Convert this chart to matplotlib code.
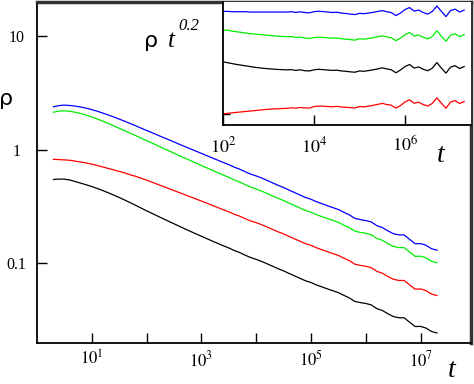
import matplotlib.pyplot as plt
import numpy as np
from matplotlib.ticker import NullLocator

plt.rcParams['font.family'] = 'Liberation Serif'
plt.rcParams['mathtext.fontset'] = 'stix'

# time grid: log10 t = 0.3 ... 7.3, step 0.1
t = 10 ** (np.arange(3, 74) / 10)

# rho * t^0.2 (and the main panel for early times)
rho_t02_blue = [2.73, 2.93, 3.10, 3.22, 3.33, 3.42, 3.50, 3.56, 3.61, 3.64, 3.67, 3.69, 3.70, 3.71, 3.71, 3.71, 3.70, 3.70,
                3.70, 3.69, 3.69, 3.69, 3.69, 3.68, 3.68, 3.68, 3.68, 3.68, 3.68, 3.68, 3.68, 3.68,
                3.69, 3.67, 3.686, 3.665, 3.656, 3.692, 3.704, 3.695, 3.68, 3.668, 3.674, 3.651, 3.636, 3.621, 3.606,
                3.643, 3.632, 3.651, 3.671, 3.698, 3.724, 3.689, 3.665, 3.577, 3.651, 3.754, 3.816, 3.709, 3.739,
                3.665, 3.621, 3.698, 3.864, 3.698, 3.548, 3.724, 3.768, 3.68, 3.739]
rho_t02_green = [2.45, 2.62, 2.76, 2.86, 2.94, 3.00, 3.04, 3.07, 3.08, 3.09, 3.09, 3.08, 3.07, 3.06, 3.05, 3.04, 3.02, 3.01,
                 3.00, 2.98, 2.965, 2.95, 2.935, 2.92, 2.91, 2.90, 2.89, 2.88, 2.87, 2.86, 2.855, 2.85,
                 2.852, 2.833, 2.840, 2.819, 2.807, 2.829, 2.839, 2.833, 2.823, 2.815, 2.820, 2.803, 2.793, 2.783, 2.772,
                 2.802, 2.794, 2.809, 2.826, 2.848, 2.869, 2.843, 2.826, 2.759, 2.816, 2.897, 2.946, 2.865, 2.888,
                 2.833, 2.799, 2.857, 2.989, 2.859, 2.746, 2.884, 2.918, 2.85, 2.896]
rho_t02_red = [0.94, 0.98, 1.02, 1.06, 1.09, 1.12, 1.15, 1.18, 1.20, 1.22, 1.24, 1.26, 1.28, 1.30, 1.31, 1.33, 1.34, 1.35,
               1.355, 1.36, 1.365, 1.37, 1.375, 1.38, 1.385, 1.39, 1.395, 1.40, 1.403, 1.405, 1.408, 1.41,
               1.416, 1.412, 1.420, 1.414, 1.414, 1.430, 1.436, 1.435, 1.431, 1.428, 1.433, 1.426, 1.422, 1.418, 1.414,
               1.431, 1.427, 1.435, 1.445, 1.456, 1.467, 1.454, 1.446, 1.412, 1.442, 1.484, 1.510, 1.469, 1.481,
               1.453, 1.437, 1.467, 1.535, 1.469, 1.411, 1.483, 1.501, 1.466, 1.490]
rho_t02_black = [0.625, 0.66, 0.69, 0.71, 0.72, 0.73, 0.74, 0.748, 0.753, 0.756, 0.757, 0.756, 0.754, 0.75, 0.745, 0.738, 0.731, 0.724,
                 0.719, 0.714, 0.709, 0.705, 0.701, 0.697, 0.693, 0.690, 0.687, 0.685, 0.683, 0.681, 0.680, 0.679,
                 0.680, 0.676, 0.679, 0.674, 0.673, 0.679, 0.682, 0.680, 0.678, 0.676, 0.677, 0.673, 0.671, 0.668, 0.666,
                 0.673, 0.671, 0.675, 0.679, 0.684, 0.690, 0.684, 0.679, 0.663, 0.678, 0.697, 0.709, 0.689, 0.695,
                 0.682, 0.674, 0.688, 0.720, 0.688, 0.661, 0.694, 0.702, 0.686, 0.697]

series = [rho_t02_blue, rho_t02_green, rho_t02_red, rho_t02_black]
colors = ['#0000ff', '#00ee00', '#ff0000', '#000000']
# vertical shift of each curve in the inset (log10 units), to separate them
inset_shift = [-0.171, -0.146, -0.091, 0.361]

fig = plt.figure(figsize=(4.74, 3.84), dpi=100)

# ---------------- main panel ----------------
ax = fig.add_axes([37/474, 1 - 343/384, 434/474, 341/384])
for vals, c in zip(series, colors):
    ax.plot(t, np.array(vals) * t ** -0.2, color=c, lw=0.9)
ax.set_xscale('log')
ax.set_yscale('log')
ax.set_xlim(1, 10 ** 7.92)
ax.set_ylim(10 ** -1.705, 10 ** 1.3)
ax.set_xticks(10.0 ** np.arange(1, 8))
ax.set_xticklabels(['$10^{%d}$' % k if k % 2 else '' for k in range(1, 8)])
ax.set_yticks([0.1, 1, 10])
ax.set_yticklabels(['0.1', '1', '10'])
ax.xaxis.set_minor_locator(NullLocator())
ax.yaxis.set_minor_locator(NullLocator())
ax.tick_params(direction='in', length=7, width=1, labelsize=11.5)
ax.tick_params(axis='x', pad=5, labelsize=12)
ax.tick_params(axis='y', pad=15)
for lab in ax.get_yticklabels():
    lab.set_horizontalalignment('center')
for s in ['left', 'bottom']:
    ax.spines[s].set_linewidth(1.3)
for s in ['top', 'right']:
    ax.spines[s].set_linewidth(2.5)
    ax.spines[s].set_color('#333333')

fig.text(6/474, 1 - 99/384, 'ρ', family='DejaVu Sans', fontsize=16, ha='center', va='center')
fig.text(452/474, 0.002, 't', fontsize=20, style='italic', ha='center', va='bottom')

# ---------------- inset ----------------
ins = fig.add_axes([223/474, 1 - 125/384, 248/474, 123/384])
for vals, c, sh in zip(series, colors, inset_shift):
    ins.plot(t[17:], np.log10(np.array(vals[17:])) + sh, color=c, lw=0.9)
ins.set_xscale('log')
ins.set_xlim(100, 10 ** 7.45)
ins.set_ylim(0, 0.43)
ins.set_xticks([1e2, 1e4, 1e6])
ins.set_xticklabels(['$10^{2}$', '$10^{4}$', '$10^{6}$'])
ins.xaxis.set_minor_locator(NullLocator())
ins.set_yticks([0.0375])
ins.set_yticklabels([])
ins.tick_params(direction='in', length=7, width=1, labelsize=13, pad=8)
ins.tick_params(axis='y', length=5)
ins.spines['top'].set_visible(False)
ins.spines['right'].set_visible(False)
for s in ['left', 'bottom']:
    ins.spines[s].set_linewidth(1.3)

fig.text(151/474, 1 - 47/384, 'ρ', family='DejaVu Sans', fontsize=16, ha='center', va='baseline')
fig.text(168/474, 1 - 47/384, 't', fontsize=18, style='italic', ha='left', va='baseline')
fig.text(178/474, 1 - 30/384, '0.2', fontsize=12, style='italic', ha='left', va='baseline')
fig.text(441/474, 1 - 162/384, 't', fontsize=20, style='italic', ha='center', va='baseline')

fig.savefig('out.png', dpi=100)
